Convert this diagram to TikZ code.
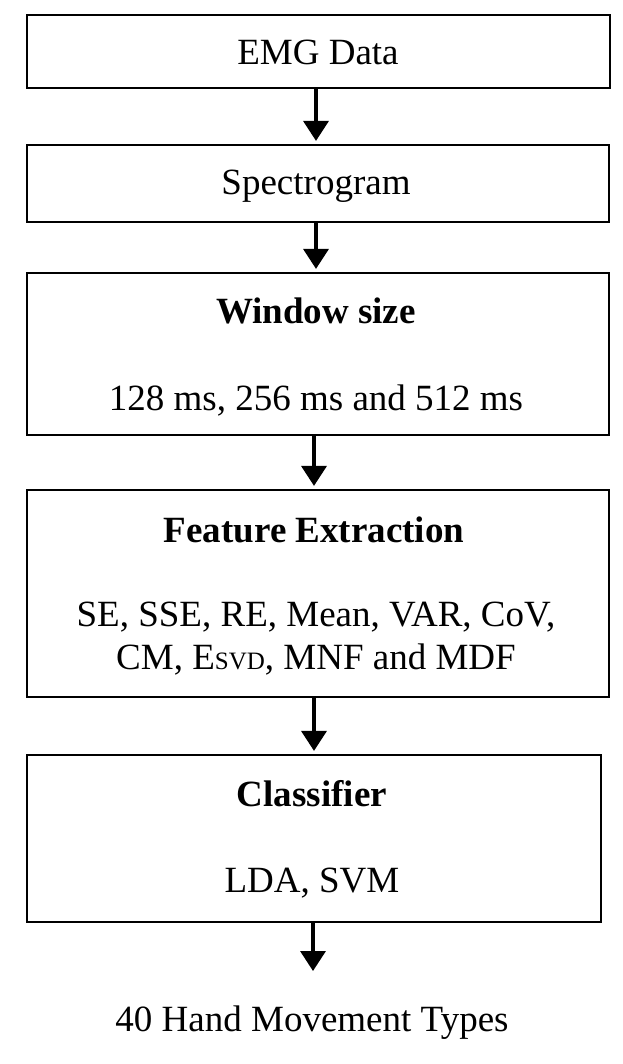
\documentclass[tikz,border=0pt]{standalone}
\usepackage{fontspec}
\setmainfont{Liberation Serif}
\usetikzlibrary{arrows.meta}
\begin{document}
\begin{tikzpicture}[x=1pt,y=-1pt,
  box/.style={draw,line width=2.2pt,inner sep=0pt},
  txt/.style={font=\fontsize{37}{41}\selectfont,inner sep=0pt,anchor=base},
  arr/.style={line width=3.5pt,shorten >=3pt,-{Triangle[length=20pt,width=25pt]}}]
\useasboundingbox (0,0) rectangle (622,1064);
\node[box,minimum width=583pt,minimum height=73pt] (b1) at (318.5,51.5) {};
\node[box,minimum width=582pt,minimum height=77pt] (b2) at (318,183.5) {};
\node[box,minimum width=582pt,minimum height=162pt] (b3) at (318,354) {};
\node[box,minimum width=582pt,minimum height=207pt] (b4) at (318,593.5) {};
\node[box,minimum width=574pt,minimum height=167pt] (b5) at (314,838.5) {};
\node[txt] (t1) at (318,65) {EMG Data};
\node[txt] (t2) at (316,195) {Spectrogram};
\node[txt] (t3) at (316,323) {\textbf{Window size}};
\node[txt] (t3b) at (316,410) {128 ms, 256 ms and 512 ms};
\node[txt] (t4) at (314,542) {\textbf{Feature Extraction}};
\node[txt] (t4b) at (316,626) {SE, SSE, RE, Mean, VAR, CoV,};
\node[txt] (t4c) at (316,669) {CM, E{\fontsize{25}{28}\selectfont SVD}, MNF and MDF};
\node[txt] (t5) at (312,806) {\textbf{Classifier}};
\node[txt] (t5b) at (312,892) {LDA, SVM};
\node[txt] (t6) at (312,1031) {40 Hand Movement Types};
\coordinate (e) at (313,974);
\draw[arr] (b1.south -| 316,0) -- (b2.north -| 316,0);
\draw[arr] (b2.south -| 316,0) -- (b3.north -| 316,0);
\draw[arr] (b3.south -| 314,0) -- (b4.north -| 314,0);
\draw[arr] (b4.south -| 314,0) -- (b5.north -| 314,0);
\draw[arr] (b5.south -| 313,0) -- (e);
\end{tikzpicture}
\end{document}
